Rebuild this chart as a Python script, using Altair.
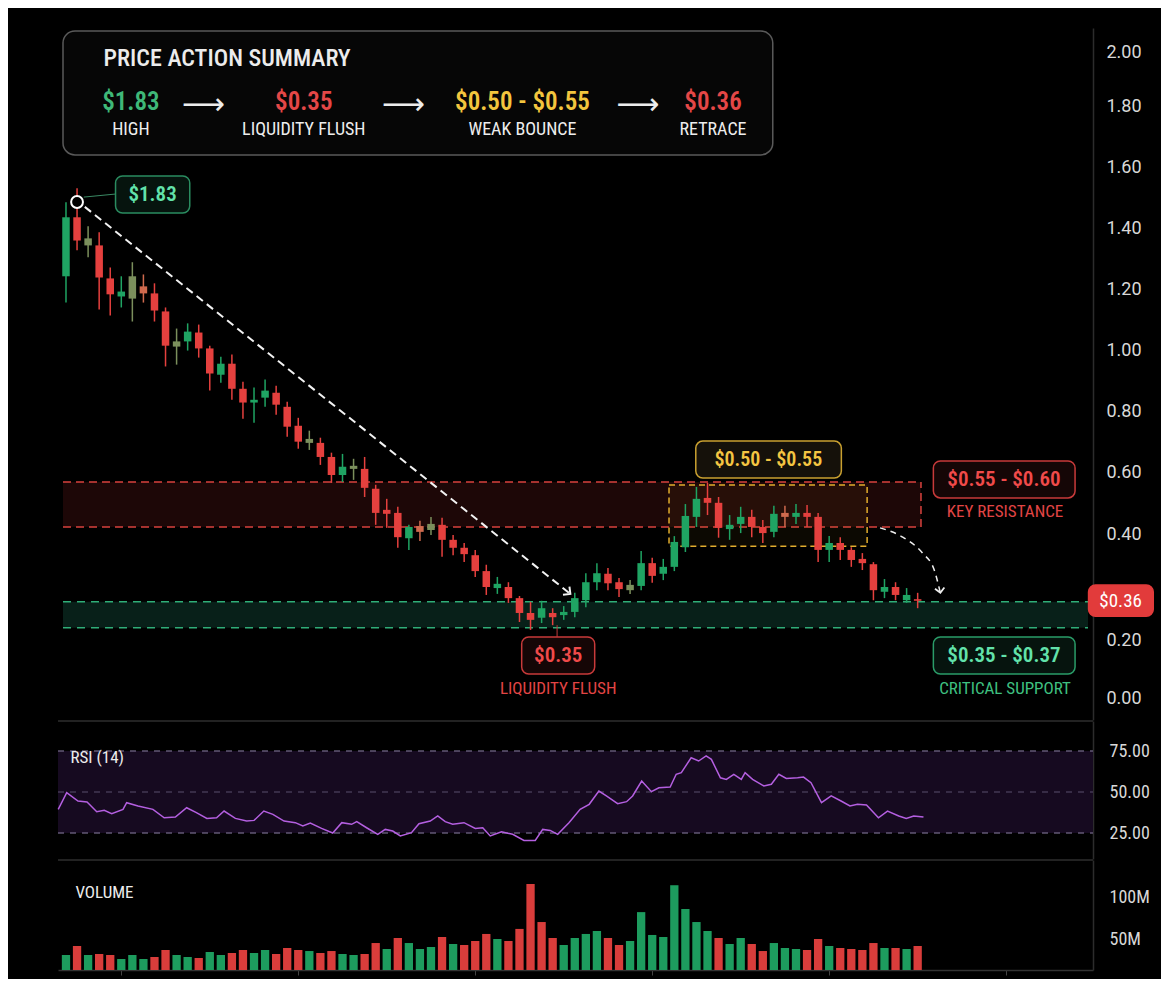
import altair as alt
import pandas as pd

# ---------------- candle data (price units) ----------------
opens = [1.243, 1.436, 1.344, 1.344, 1.236, 1.177, 1.170, 1.210, 1.187, 1.128,
         1.013, 1.030, 1.059, 1.007, 0.921, 0.957, 0.875, 0.830, 0.846, 0.862,
         0.816, 0.754, 0.698, 0.698, 0.652, 0.593, 0.613, 0.613, 0.548, 0.479,
         0.469, 0.392, 0.426, 0.413, 0.430, 0.389, 0.374, 0.360, 0.330, 0.298,
         0.300, 0.279, 0.251, 0.242, 0.251, 0.247, 0.253, 0.275, 0.309, 0.325,
         0.309, 0.294, 0.302, 0.345, 0.325, 0.338, 0.375, 0.456, 0.518, 0.502,
         0.416, 0.433, 0.456, 0.423, 0.407, 0.469, 0.456, 0.469, 0.456, 0.370,
         0.383, 0.370, 0.353, 0.343, 0.291, 0.300, 0.275, 0.277]
highs = [1.485, 1.531, 1.407, 1.387, 1.272, 1.243, 1.289, 1.249, 1.220, 1.141,
         1.072, 1.089, 1.085, 1.016, 0.980, 0.987, 0.898, 0.879, 0.905, 0.885,
         0.833, 0.780, 0.738, 0.715, 0.666, 0.662, 0.646, 0.652, 0.561, 0.515,
         0.489, 0.430, 0.443, 0.456, 0.453, 0.398, 0.383, 0.370, 0.342, 0.319,
         0.309, 0.283, 0.272, 0.274, 0.260, 0.264, 0.289, 0.326, 0.345, 0.336,
         0.317, 0.313, 0.368, 0.355, 0.353, 0.396, 0.498, 0.554, 0.567, 0.521,
         0.462, 0.489, 0.479, 0.446, 0.492, 0.492, 0.498, 0.495, 0.469, 0.396,
         0.394, 0.375, 0.364, 0.347, 0.315, 0.309, 0.298, 0.289]
lows = [1.157, 1.328, 1.305, 1.134, 1.115, 1.141, 1.095, 1.157, 1.095, 0.948,
        0.954, 1.000, 0.977, 0.869, 0.895, 0.839, 0.777, 0.764, 0.816, 0.790,
        0.718, 0.679, 0.675, 0.626, 0.567, 0.570, 0.577, 0.521, 0.430, 0.420,
        0.374, 0.370, 0.387, 0.398, 0.357, 0.360, 0.347, 0.319, 0.285, 0.287,
        0.270, 0.234, 0.219, 0.232, 0.228, 0.238, 0.243, 0.262, 0.294, 0.294,
        0.281, 0.287, 0.294, 0.308, 0.313, 0.330, 0.366, 0.423, 0.462, 0.393,
        0.389, 0.403, 0.394, 0.383, 0.394, 0.423, 0.433, 0.423, 0.347, 0.347,
        0.351, 0.338, 0.332, 0.275, 0.279, 0.275, 0.270, 0.260]
closes = [1.436, 1.360, 1.367, 1.239, 1.184, 1.193, 1.243, 1.187, 1.131, 1.016,
          1.030, 1.062, 1.007, 0.925, 0.957, 0.875, 0.830, 0.839, 0.869, 0.823,
          0.751, 0.702, 0.711, 0.652, 0.593, 0.620, 0.623, 0.551, 0.469, 0.466,
          0.394, 0.423, 0.407, 0.433, 0.389, 0.374, 0.362, 0.330, 0.300, 0.306,
          0.279, 0.251, 0.238, 0.260, 0.243, 0.253, 0.279, 0.309, 0.326, 0.307,
          0.296, 0.304, 0.345, 0.321, 0.338, 0.385, 0.459, 0.515, 0.502, 0.420,
          0.430, 0.456, 0.423, 0.403, 0.466, 0.456, 0.469, 0.456, 0.370, 0.383,
          0.370, 0.351, 0.345, 0.294, 0.300, 0.285, 0.285, 0.274]
candle_tone = ["g", "r", "og", "r", "r", "g", "og", "or", "r", "r",
               "og", "g", "r", "r", "g", "r", "r", "g", "g", "r",
               "r", "r", "og", "r", "r", "g", "og", "r", "r", "r",
               "r", "g", "or", "og", "r", "r", "r", "r", "r", "g",
               "r", "r", "r", "g", "r", "g", "g", "g", "g", "r",
               "r", "og", "g", "r", "g", "g", "g", "g", "r", "r",
               "g", "g", "r", "r", "g", "or", "g", "r", "r", "g",
               "r", "r", "r", "r", "g", "r", "g", "r"]

# ---------------- volume (millions) ----------------
volumes = [24.2, 38.7, 24.2, 25.8, 24.2, 17.7, 24.2, 17.7, 21.0, 32.3,
           24.2, 21.0, 19.4, 29.0, 24.2, 27.4, 32.3, 27.4, 32.3, 25.8,
           35.5, 32.3, 30.6, 27.4, 30.6, 25.8, 24.2, 25.8, 43.5, 33.9,
           51.2, 43.5, 33.9, 37.1, 52.4, 41.9, 40.3, 46.8, 56.0, 50.0,
           46.8, 62.0, 115.5, 70.2, 51.2, 40.3, 51.2, 56.0, 59.5, 51.2,
           40.3, 46.8, 82.0, 54.8, 52.4, 114.0, 85.7, 70.2, 59.5, 51.2,
           41.9, 51.2, 41.9, 30.6, 43.5, 35.5, 33.9, 32.3, 50.0, 38.7,
           35.5, 33.9, 32.3, 43.5, 35.5, 35.5, 33.9, 38.7]
volume_tone = ["g", "r", "o", "r", "r", "g", "o", "o", "r", "r",
               "o", "g", "r", "g", "g", "r", "r", "g", "g", "r",
               "r", "r", "g", "r", "r", "g", "g", "r", "r", "o",
               "r", "o", "g", "o", "r", "o", "r", "r", "r", "g",
               "r", "r", "r", "r", "r", "o", "g", "g", "g", "r",
               "r", "g", "g", "o", "g", "g", "g", "g", "g", "r",
               "g", "g", "r", "r", "g", "g", "g", "r", "r", "g",
               "r", "r", "r", "r", "o", "r", "g", "r"]

# ---------------- RSI (14) trace: position in candle units, value ----------------
rsi_t = [-0.25, 0.51, 1.52, 2.33, 3.20, 3.87, 4.54, 5.55, 5.88, 6.89, 8.23, 9.24, 10.24,
         11.25, 12.12, 13.06, 13.93, 14.60, 15.61, 16.62, 17.29, 18.16, 18.97, 19.97,
         20.98, 21.65, 22.32, 23.33, 24.33, 25.14, 26.02, 26.48, 27.36, 28.36, 29.03,
         29.70, 30.38, 31.38, 32.05, 33.06, 33.73, 34.40, 35.07, 36.08, 37.09, 37.76,
         38.43, 39.44, 40.44, 41.45, 42.46, 43.13, 43.80, 44.47, 45.48, 46.48, 47.29,
         48.16, 48.83, 49.84, 50.64, 51.18, 51.99, 52.86, 53.53, 54.54, 55.08, 55.54,
         56.42, 57.09, 57.76, 58.23, 59.04, 59.57, 60.24, 60.91, 61.25, 61.92, 62.93,
         63.60, 64.27, 64.94, 65.95, 66.48, 67.15, 68.09, 68.96, 69.84, 70.64, 71.31,
         72.12, 73.19, 74.00, 75.01, 75.68, 76.35, 77.22]
rsi_v = [39.4, 49.6, 44.5, 43.9, 38.0, 38.8, 36.8, 39.4, 43.5, 41.5, 39.4, 34.3, 34.7,
         40.4, 37.4, 33.9, 34.3, 38.4, 33.9, 32.3, 32.7, 38.4, 36.4, 32.3,
         31.3, 29.3, 31.1, 27.8, 25.0, 31.3, 30.3, 31.9, 28.2, 24.2, 27.2,
         26.2, 23.2, 25.2, 30.7, 32.3, 35.4, 31.9, 30.3, 31.3, 27.8, 28.2,
         23.2, 25.8, 24.2, 20.5, 20.5, 27.2, 26.6, 24.2, 31.3, 39.4, 42.5,
         50.6, 47.6, 42.9, 44.1, 47.6, 56.7, 50.2, 52.6, 53.0, 60.8, 61.8,
         70.9, 68.9, 72.0, 69.9, 58.7, 57.7, 60.8, 57.7, 61.8, 57.7, 53.7,
         54.7, 60.8, 58.3, 58.7, 59.1, 55.7, 43.5, 47.6, 44.5, 41.5, 42.5,
         42.1, 34.3, 38.4, 35.4, 33.9, 35.4, 34.7]

# ---------------- axis ticks / levels ----------------
price_ticks = [0.0, 0.2, 0.4, 0.6, 0.8, 1.0, 1.2, 1.4, 1.6, 1.8, 2.0]
rsi_ticks = [25, 50, 75]
volume_ticks = [50, 100]
time_ticks = [5, 21, 37, 53, 69, 85]
resistance_zone = [0.423, 0.570]
support_zone = [0.223, 0.272]
bounce_box = [54.52, 72.43, 0.377, 0.560]

# ---------------- layout / style ----------------
W = 1035
HP, HR, HV = 692, 138, 110
XDOM = [-0.27, 92.4]
COND = "Roboto Condensed, Liberation Sans Narrow, DejaVu Sans Condensed, Roboto, sans-serif"
AXF = "Roboto, Inter, sans-serif"
CHEV = "M-1,-1L0,0L-1,1"

GREEN, RED = "#1fa463", "#e5403e"
tone_scale = alt.Scale(domain=["g", "r", "og", "or"], range=[GREEN, RED, "#7b8f5c", "#cf6a4e"])
vol_scale = alt.Scale(domain=["g", "r", "o"], range=["#14694a", "#9e2a28", "#84593c"])

xs = alt.Scale(domain=XDOM, nice=False, zero=False)
ps = alt.Scale(domain=[-0.0759, 0, 0.2, 0.4, 1.8, 2.0, 2.0889],
               range=[HP, 670, 612, 506, 78, 24, 0], nice=False, zero=False)
rs = alt.Scale(domain=[9.15, 93.3], nice=False, zero=False)
vs = alt.Scale(domain=[0, 50, 100, 144], range=[HV, 79, 37, 0], nice=False, zero=False)

price_axis = alt.Axis(orient="right", values=price_ticks, format=".2f", title=None, grid=False,
                      ticks=False, domainColor="#2c2c2c", domainWidth=1.5, labelColor="#d8d8d8",
                      labelFont=AXF, labelFontSize=18, labelPadding=13)
rsi_axis = alt.Axis(orient="right", values=rsi_ticks, format=".2f", title=None, grid=False,
                    ticks=False, domainColor="#2c2c2c", domainWidth=1.5, labelColor="#d8d8d8",
                    labelFont=COND, labelFontSize=18, labelPadding=16)
vol_axis = alt.Axis(orient="right", values=volume_ticks, labelExpr="datum.value + 'M'", title=None,
                    grid=False, ticks=False, domainColor="#2c2c2c", domainWidth=1.5,
                    labelColor="#d8d8d8", labelFont=COND, labelFontSize=18, labelPadding=16)
time_axis = alt.Axis(values=time_ticks, labels=False, title=None, grid=False, ticks=True,
                     tickColor="#444", tickSize=5, domainColor="#333", domainWidth=1.5)


def X(f, axis=None):
    return alt.X(f, type="quantitative", scale=xs, axis=axis)


def PY(f):
    return alt.Y(f, type="quantitative", scale=ps, axis=price_axis)


# ---------------- price panel ----------------
cdf = pd.DataFrame({"i": list(range(len(opens))), "o": opens, "h": highs, "l": lows,
                    "c": closes, "tone": candle_tone})

zones = pd.DataFrame({"x": [XDOM[0], XDOM[0]], "x2": [77.3, XDOM[1]],
                      "y": [resistance_zone[0], support_zone[0]],
                      "y2": [resistance_zone[1], support_zone[1]],
                      "fill": ["#1f0707", "#08221a"]})
zone_layer = alt.Chart(zones).mark_rect(opacity=0.95).encode(
    x=X("x"), x2="x2", y=PY("y"), y2="y2", fill=alt.Fill("fill:N", scale=None))

res_lines = pd.DataFrame({"x": [XDOM[0], XDOM[0], 77.3], "x2": [77.3, 77.3, 77.3],
                          "y": [resistance_zone[1], resistance_zone[0], resistance_zone[0]],
                          "y2": [resistance_zone[1], resistance_zone[0], resistance_zone[1]]})
res_layer = alt.Chart(res_lines).mark_rule(color="#d8423e", strokeDash=[8, 5], strokeWidth=1.5).encode(
    x=X("x"), x2="x2", y=PY("y"), y2="y2")
sup_lines = pd.DataFrame({"x": [XDOM[0], XDOM[0]], "x2": [XDOM[1], XDOM[1]],
                          "y": support_zone, "y2": support_zone})
sup_layer = alt.Chart(sup_lines).mark_rule(color="#2fae78", strokeDash=[8, 6], strokeWidth=1.5).encode(
    x=X("x"), x2="x2", y=PY("y"), y2="y2")

bounce = pd.DataFrame({"x": [bounce_box[0]], "x2": [bounce_box[1]], "y": [bounce_box[2]], "y2": [bounce_box[3]]})
bounce_layer = alt.Chart(bounce).mark_rect(fill="#e6b030", fillOpacity=0.05, stroke="#e2ad2e",
                                           strokeDash=[6, 4], strokeWidth=1.5).encode(
    x=X("x"), x2="x2", y=PY("y"), y2="y2")

wicks = alt.Chart(cdf).mark_rule(strokeWidth=1.5).encode(
    x=X("i"), y=PY("l"), y2="h", color=alt.Color("tone:N", scale=tone_scale, legend=None))
bodies = alt.Chart(cdf).mark_bar(size=7.5).encode(
    x=X("i"), y=PY("o"), y2="c", color=alt.Color("tone:N", scale=tone_scale, legend=None))

summary = pd.DataFrame({"x": [XDOM[0]], "x2": [63.9], "y": [1.640], "y2": [2.078]})
summary_layer = alt.Chart(summary).mark_rect(fill="#060606", stroke="#5a5a5a", strokeWidth=1.5,
                                             cornerRadius=12).encode(
    x=X("x"), x2="x2", y=PY("y"), y2="y2")

boxes = pd.DataFrame({
    "x": [4.48, 56.94, 78.42, 78.42, 41.2, 92.45],
    "x2": [11.19, 70.1, 91.23, 91.23, 47.8, 98.3],
    "y": [1.450, 0.583, 0.518, 0.0828, 0.0828, 0.245],
    "y2": [1.571, 0.704, 0.639, 0.2057, 0.2057, 0.304],
    "fill": ["#06140e", "#15110a", "#150606", "#06140e", "#150606", "#e23b3b"],
    "stroke": ["#2a8c60", "#c9a030", "#c83a3a", "#2a9c68", "#c83a3a", "#e23b3b"],
})
box_layer = alt.Chart(boxes).mark_rect(cornerRadius=7, strokeWidth=1.5).encode(
    x=X("x"), x2="x2", y=PY("y"), y2="y2",
    fill=alt.Fill("fill:N", scale=None), stroke=alt.Stroke("stroke:N", scale=None))

conns = pd.DataFrame({"x": [1.61, 44.4], "x2": [4.48, 44.4], "y": [1.502, 0.228], "y2": [1.512, 0.2057],
                      "stroke": ["#3a8a64", "#c03a3a"]})
conn_layer = alt.Chart(conns).mark_rule(strokeWidth=1).encode(
    x=X("x"), x2="x2", y=PY("y"), y2="y2", stroke=alt.Stroke("stroke:N", scale=None))

arrow = pd.DataFrame({"x": [1.70, 45.6], "y": [1.470, 0.287]})
arrow_layer = alt.Chart(arrow).mark_line(color="#f2f2f2", strokeDash=[8, 5], strokeWidth=2).encode(
    x=X("x"), y=PY("y"))
arrow_head = alt.Chart(arrow.tail(1)).mark_point(shape=CHEV, angle=38, size=110, filled=False,
                                                 color="#f2f2f2", strokeWidth=2, opacity=1).encode(
    x=X("x"), y=PY("y"))

curve = pd.DataFrame({"x": [73.6, 75.65, 77.44, 78.5, 79.05], "y": [0.42, 0.394, 0.364, 0.332, 0.289]})
curve_layer = alt.Chart(curve).mark_line(color="#eeeeee", strokeDash=[6, 5], strokeWidth=1.5,
                                         interpolate="monotone").encode(x=X("x"), y=PY("y"))
curve_head = alt.Chart(curve.tail(1)).mark_point(shape=CHEV, angle=82, size=90, filled=False,
                                                 color="#eeeeee", strokeWidth=1.8, opacity=1).encode(
    x=X("x"), y=PY("y"))

peak = pd.DataFrame({"x": [1], "y": [1.486]})
peak_layer = alt.Chart(peak).mark_point(shape="circle", size=140, filled=True, fill="#000",
                                        stroke="#ffffff", strokeWidth=2, opacity=1).encode(
    x=X("x"), y=PY("y"))

bold_text = pd.DataFrame({
    "x": [5.87, 21.5, 41.27, 58.5, 7.83, 63.5, 84.8, 84.8, 44.5],
    "y": [1.815, 1.815, 1.815, 1.815, 1.509, 0.642, 0.577, 0.145, 0.145],
    "text": ["$1.83", "$0.35", "$0.50 - $0.55", "$0.36", "$1.83", "$0.50 - $0.55",
             "$0.55 - $0.60", "$0.35 - $0.37", "$0.35"],
    "color": ["#3fb878", "#e44747", "#f3c53e", "#e44747", "#62e2ab", "#f4c542",
              "#f04a4a", "#62e2ab", "#f04a4a"],
    "size": [25, 25, 25, 25, 21, 20, 21, 21, 21],
})
bold_layer = alt.Chart(bold_text).mark_text(font=COND, fontWeight=600, align="center", baseline="middle").encode(
    x=X("x"), y=PY("y"), text="text:N", color=alt.Color("color:N", scale=None), size=alt.Size("size:Q", scale=None))

plain_text = pd.DataFrame({
    "x": [5.87, 21.5, 41.27, 58.5, 84.9, 84.9, 44.5, 95.35],
    "y": [1.722, 1.722, 1.722, 1.722, 0.472, 0.031, 0.031, 0.2745],
    "text": ["HIGH", "LIQUIDITY FLUSH", "WEAK BOUNCE", "RETRACE", "KEY RESISTANCE",
             "CRITICAL SUPPORT", "LIQUIDITY FLUSH", "$0.36"],
    "color": ["#ededed", "#ededed", "#ededed", "#ededed", "#e24545", "#3fc080", "#e24545", "#ffffff"],
    "size": [18, 18, 18, 18, 17, 17, 17, 19],
})
plain_layer = alt.Chart(plain_text).mark_text(font=COND, align="center", baseline="middle").encode(
    x=X("x"), y=PY("y"), text="text:N", color=alt.Color("color:N", scale=None), size=alt.Size("size:Q", scale=None))

title_df = pd.DataFrame({"x": [3.4], "y": [1.975], "text": ["PRICE ACTION SUMMARY"]})
title_layer = alt.Chart(title_df).mark_text(font=COND, fontWeight=500, fontSize=24, color="#ececec",
                                            align="left", baseline="middle").encode(
    x=X("x"), y=PY("y"), text="text:N")

arrows_df = pd.DataFrame({"x": [12.4, 30.5, 51.7], "y": [1.805] * 3, "text": ["\u27f6"] * 3})
arrows_text = alt.Chart(arrows_df).mark_text(font="DejaVu Sans", fontSize=30, color="#ececec",
                                             align="center", baseline="middle").encode(
    x=X("x"), y=PY("y"), text="text:N")

price = alt.layer(zone_layer, res_layer, sup_layer, bounce_layer, wicks, bodies, summary_layer,
                  conn_layer, box_layer, arrow_layer, arrow_head, curve_layer, curve_head, peak_layer,
                  bold_layer, plain_layer, title_layer, arrows_text).properties(width=W, height=HP)

# ---------------- RSI panel ----------------
def RY(f):
    return alt.Y(f, type="quantitative", scale=rs, axis=rsi_axis)


rsi_df = pd.DataFrame({"t": rsi_t, "v": rsi_v})
rsi_band = alt.Chart(pd.DataFrame({"x": [XDOM[0]], "x2": [XDOM[1]], "y": [25], "y2": [75]})).mark_rect(
    fill="#160a20").encode(x=X("x"), x2="x2", y=RY("y"), y2="y2")
rsi_levels = alt.Chart(pd.DataFrame({"x": [XDOM[0]] * 3, "x2": [XDOM[1]] * 3, "y": rsi_ticks,
                                     "op": [0.9, 0.55, 0.9]})).mark_rule(
    color="#6a6080", strokeDash=[6, 6], strokeWidth=1.3).encode(
    x=X("x"), x2="x2", y=RY("y"), opacity=alt.Opacity("op:Q", scale=None))
rsi_line = alt.Chart(rsi_df).mark_line(color="#b45fe0", strokeWidth=1.5).encode(x=X("t"), y=RY("v"))
rsi_label = alt.Chart(pd.DataFrame({"x": [0.85], "y": [70.7], "text": ["RSI (14)"]})).mark_text(
    font=COND, fontSize=17, color="#ececec", align="left", baseline="middle").encode(
    x=X("x"), y=RY("y"), text="text:N")
sep1 = alt.Chart(pd.DataFrame({"a": [0]})).mark_rule(color="#2e2e2e", strokeWidth=1.5).encode(
    x=alt.value(0), x2=alt.value(W), y=alt.value(0))
rsi = alt.layer(rsi_band, rsi_levels, rsi_line, rsi_label, sep1).properties(width=W, height=HR)

# ---------------- volume panel ----------------
def VY(f):
    return alt.Y(f, type="quantitative", scale=vs, axis=vol_axis)


vdf = pd.DataFrame({"i": list(range(len(volumes))), "v": volumes, "tone": volume_tone})
vol_bars = alt.Chart(vdf).mark_bar(size=8.3, opacity=0.95).encode(
    x=X("i", axis=time_axis), y=VY("v"), y2=alt.datum(0),
    color=alt.Color("tone:N", scale=vol_scale, legend=None))
vol_label = alt.Chart(pd.DataFrame({"x": [0.85], "y": [104.8], "text": ["VOLUME"]})).mark_text(
    font=COND, fontSize=17, color="#ececec", align="left", baseline="middle").encode(
    x=X("x", axis=time_axis), y=VY("y"), text="text:N")
sep2 = alt.Chart(pd.DataFrame({"a": [0]})).mark_rule(color="#2e2e2e", strokeWidth=1.5).encode(
    x=alt.value(0), x2=alt.value(W), y=alt.value(0))
vol = alt.layer(vol_bars, vol_label, sep2).properties(width=W, height=HV)

chart = alt.vconcat(price, rsi, vol, spacing=0).properties(
    background="#000000",
    padding={"left": 47, "top": 20, "right": 6, "bottom": 3},
).configure_view(stroke=None)

chart.save("out.html", embed_options={"renderer": "svg", "actions": False})
